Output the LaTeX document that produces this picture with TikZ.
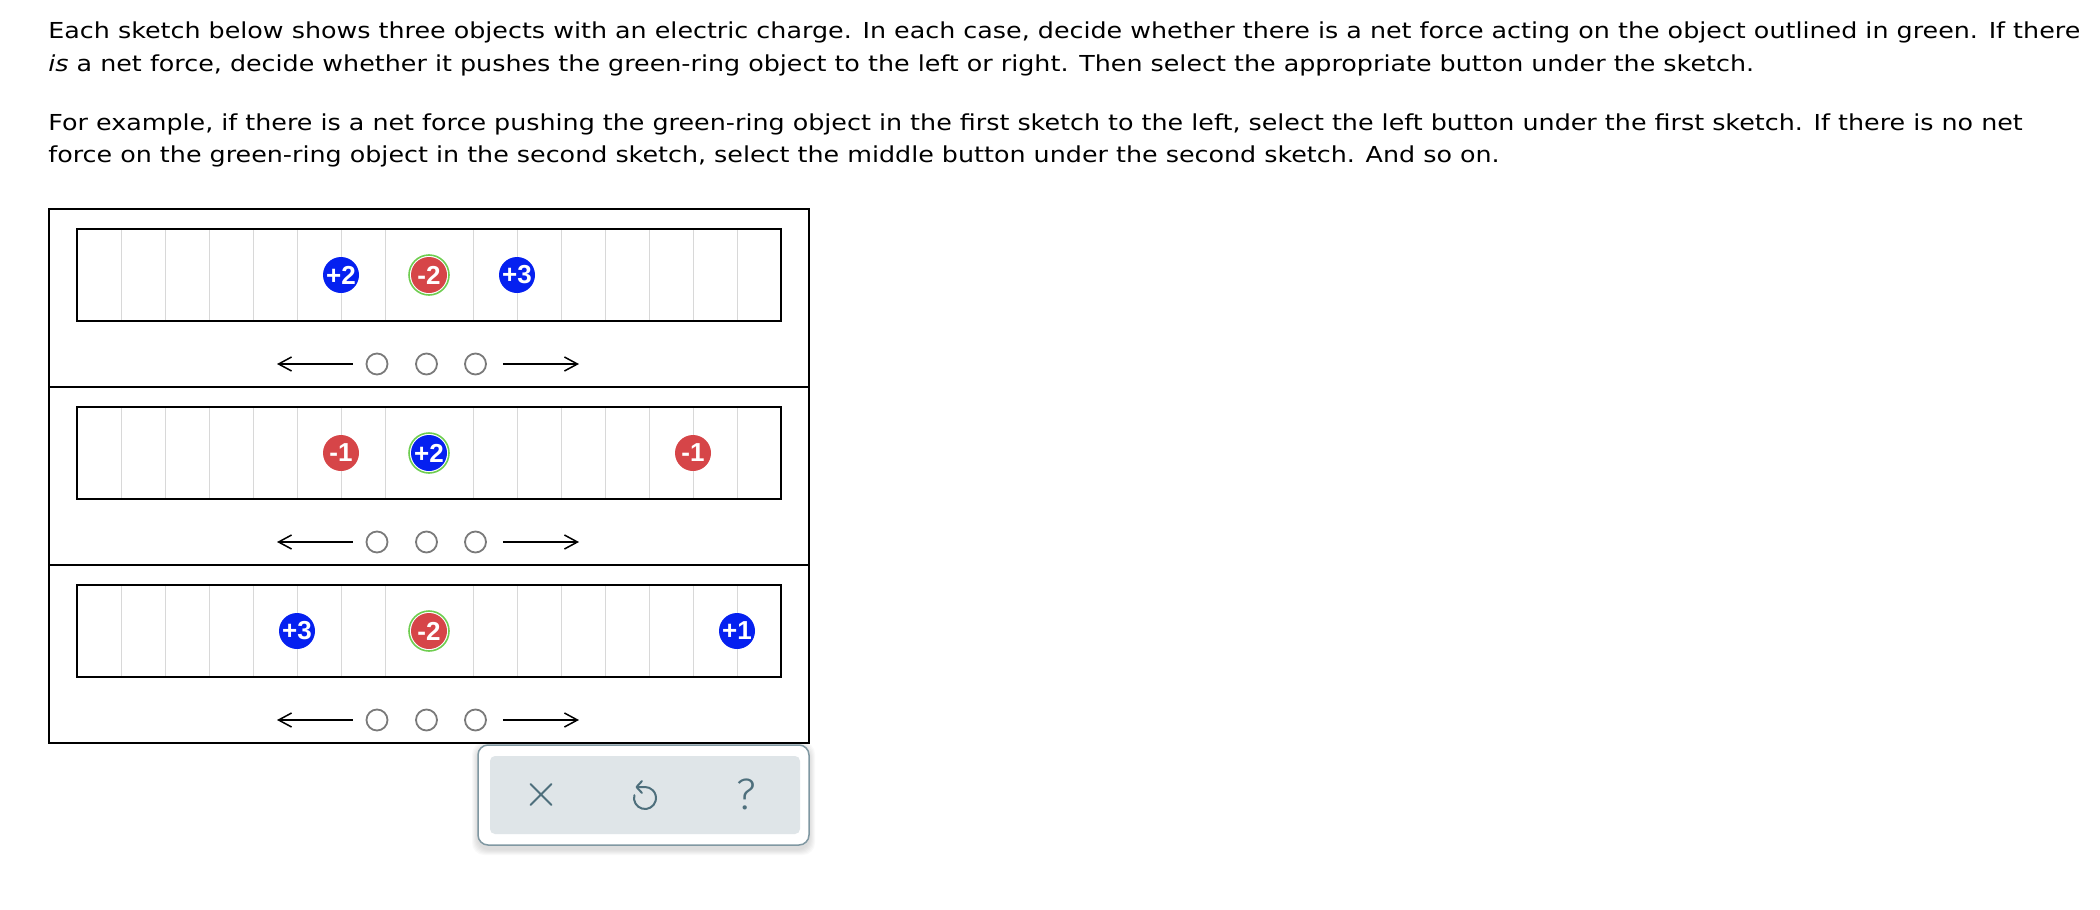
\documentclass[tikz,border=0pt]{standalone}
\usepackage{fontspec}
\setmainfont{DejaVu Sans}[FakeStretch=1.153]
\newfontfamily\chargefont{Liberation Sans}
\newfontfamily\helpfont{Fira Sans Light}
\usepackage{xcolor}
\usetikzlibrary{arrows.meta, positioning}

\definecolor{posblue}{RGB}{5,32,240}
\definecolor{negred}{RGB}{214,69,72}
\definecolor{ringgreen}{RGB}{110,205,80}
\definecolor{gridgray}{RGB}{216,216,216}
\definecolor{radiogray}{RGB}{122,122,122}
\definecolor{toolslate}{RGB}{78,111,124}
\definecolor{toolborder}{RGB}{128,152,162}
\definecolor{toolfill}{RGB}{223,229,232}

\tikzset{
    prose/.style={anchor=base west, inner sep=0pt, font=\fontsize{11pt}{14pt}\selectfont},
    charge/.style={circle, inner sep=0pt, minimum size=18pt, text=white, font=\chargefont\bfseries\fontsize{13pt}{14pt}\selectfont},
    poscharge/.style={charge, fill=posblue},
    negcharge/.style={charge, fill=negred},
    greenring/.style={draw=ringgreen, line width=0.8pt},
    radio/.style={circle, draw=radiogray, line width=0.9pt, minimum size=10.5pt, inner sep=0pt},
    pushline/.style={line width=0.75pt, -{Straight Barb[length=6.5pt, width=7pt]}},
    frame/.style={draw=black, line width=1pt},
    toolicon/.style={draw=toolslate, line width=1pt, line cap=round},
}

\begin{document}
\begin{tikzpicture}[x=0.5pt, y=-0.5pt]
    \useasboundingbox (0,0) rectangle (2100,910);

    % Instructions above the sketches
    \node[prose] (intro1) at (48,39) {Each sketch below shows three objects with an electric charge. In each case, decide whether there is a net force acting on the object outlined in green. If there};
    \node[prose] (intro2) at (48,71) {\textit{is} a net force, decide whether it pushes the green-ring object to the left or right. Then select the appropriate button under the sketch.};
    \node[prose] (intro3) at (48,130) {For example, if there is a net force pushing the green-ring object in the first sketch to the left, select the left button under the first sketch. If there is no net};
    \node[prose] (intro4) at (48,162) {force on the green-ring object in the second sketch, select the middle button under the second sketch. And so on.};

    % Outer frame split in three sketches
    \draw[frame] (49,209) rectangle (809,743);
    \draw[frame] (49,387) -- (809,387);
    \draw[frame] (49,565) -- (809,565);

    % Tracks with gray ticks
    \foreach \top in {209,387,565} {
        \foreach \k in {1,2,3,4,5,6,7,9,10,11,12,13,14,15}
            \draw[gridgray, line width=0.5pt] ({77+44*\k},{\top+20}) -- ({77+44*\k},{\top+112});
        \draw[frame] (77,{\top+20}) rectangle (781,{\top+112});
    }

    % Sketch 1 charges
    \node[poscharge] (chA1) at (341,275) {+2};
    \node[negcharge] (chB1) at (429,275) {-2};
    \node[poscharge] (chC1) at (517,275) {+3};
    \draw[greenring] (chB1) circle (20);

    % Sketch 2 charges
    \node[negcharge] (chA2) at (341,453) {-1};
    \node[poscharge] (chB2) at (429,453) {+2};
    \node[negcharge] (chC2) at (693,453) {-1};
    \draw[greenring] (chB2) circle (20);

    % Sketch 3 charges
    \node[poscharge] (chA3) at (297,631) {+3};
    \node[negcharge] (chB3) at (429,631) {-2};
    \node[poscharge] (chC3) at (737,631) {+1};
    \draw[greenring] (chB3) circle (20);

    % Answer buttons under each sketch
    \foreach \n/\y in {1/364, 2/542, 3/720} {
        \node[radio] (radL\n) at (377,\y) {};
        \node[radio] (radM\n) at (426.5,\y) {};
        \node[radio] (radR\n) at (475.5,\y) {};
        \coordinate (left\n) at (277,\y);
        \coordinate (right\n) at (579,\y);
        \draw[pushline, shorten <=6.5pt] (radL\n.west) -- (left\n);
        \draw[pushline, shorten <=8pt] (radR\n.east) -- (right\n);
    }

    % Tool bar with shadow
    \foreach \s in {1,...,6}
        \fill[black, opacity=0.025, rounded corners=6pt] ({478-\s},{748-\s}) rectangle ({809+\s},{849+\s});
    \draw[toolborder, fill=white, rounded corners=5pt, line width=0.75pt] (478,745) rectangle (809,845);
    \fill[toolfill, rounded corners=2.5pt] (490,756) rectangle (800,834);

    % Tool icons
    \draw[toolicon] (530.5,784) -- (551.5,805) (530.5,805) -- (551.5,784);
    \draw[toolicon] (645,798) ++(195:11) arc[start angle=195, end angle=-90, radius=11] -- (637,787);
    \draw[toolicon, line join=round] (642,781) -- (636.5,787) -- (642,793);
    \node[text=toolslate, font=\helpfont\fontsize{22pt}{24pt}\selectfont, inner sep=0pt] (help) at (746,794) {?};
\end{tikzpicture}
\end{document}
